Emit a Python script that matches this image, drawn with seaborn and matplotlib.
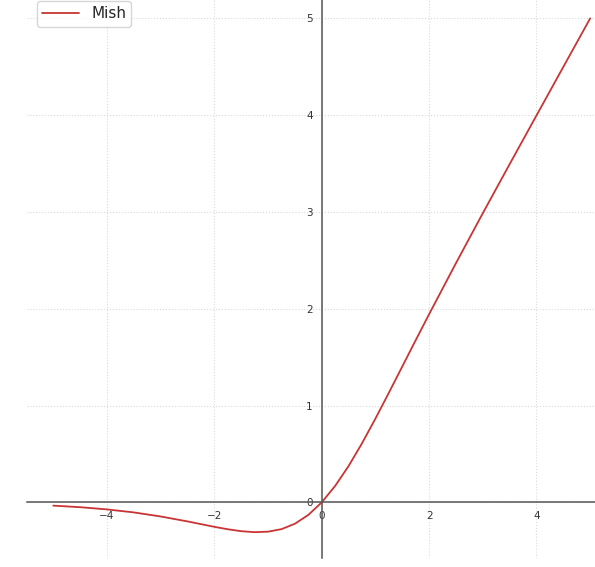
import matplotlib
matplotlib.use("Agg")
import matplotlib.pyplot as plt
import pandas as pd
import seaborn as sns

# =========================
# Data
# =========================
x_vals = [-5.0, -4.5, -4.0, -3.5, -3.0, -2.5, -2.0, -1.75, -1.5, -1.25,
          -1.0, -0.75, -0.5, -0.25, 0.0, 0.25, 0.5, 0.75, 1.0, 1.25,
          1.5, 1.75, 2.0, 2.5, 3.0, 3.5, 4.0, 4.5, 5.0]
y_vals = [-0.034, -0.050, -0.073, -0.104, -0.146, -0.197, -0.253, -0.278,
          -0.298, -0.308, -0.303, -0.277, -0.221, -0.130, 0.0, 0.170,
          0.375, 0.610, 0.865, 1.132, 1.403, 1.675, 1.944, 2.471, 2.987,
          3.494, 3.997, 4.499, 5.000]
x_ticks = [-4, -2, 0, 2, 4]
y_ticks = [0, 1, 2, 3, 4, 5]
label = "Mish"

df = pd.DataFrame({"x": x_vals, "y": y_vals})

# =========================
# Plot
# =========================
sns.set_style("white")
plt.rcParams["font.family"] = ["DejaVu Sans"]

fig = plt.figure(figsize=(5.95, 5.67), dpi=100)
ax = fig.add_axes([27 / 595, 9 / 567, 568 / 595, 558 / 567])

sns.lineplot(data=df, x="x", y="y", color="#c93434", linewidth=1.3,
             label=label, ax=ax)

ax.set_xlim(-5.49, 5.09)
ax.set_ylim(-0.575, 5.19)

# spines through the origin
ax.spines["left"].set_position(("data", 0))
ax.spines["bottom"].set_position(("data", 0))
ax.spines["top"].set_visible(False)
ax.spines["right"].set_visible(False)
for side in ["left", "bottom"]:
    ax.spines[side].set_color("#555555")
    ax.spines[side].set_linewidth(1.1)

ax.set_xticks(x_ticks)
ax.set_yticks(y_ticks)
ax.tick_params(axis="both", labelsize=7.5, colors="#333333", length=3,
               width=0.8, direction="out")
ax.set_xlabel("")
ax.set_ylabel("")

ax.grid(True, linestyle=":", color="#dadada", linewidth=0.8)

ax.legend(loc="upper left", bbox_to_anchor=(0.004, 1.012), fontsize=11,
          frameon=True, handlelength=2.4, borderpad=0.35)

fig.savefig("out.png", dpi=100)
